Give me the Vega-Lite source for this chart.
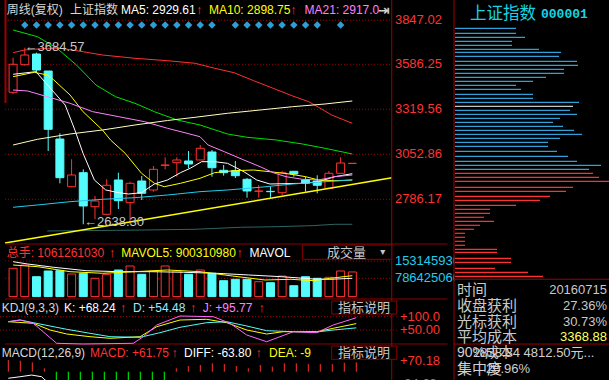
{
"$schema": "https://vega.github.io/schema/vega-lite/v6.json",
"width": 609, "height": 380, "autosize": {"type": "none"}, "padding": 0,
"background": "#000000",
"config": {
  "aria": false,
  "view": {"stroke": null},
  "axis": {"disable": true},
  "legend": {"disable": true},
  "text": {"font": "Liberation Sans, Noto Sans CJK SC, sans-serif", "fontSize": 12, "baseline": "middle", "align": "left"}
},
"datasets": {
  "k": [
    {"i":1,"o":3420.3,"h":3625.3,"l":3410.2,"c":3586.2,"v":1219000000,"m":76,"d":false},
    {"i":2,"o":3583.8,"h":3684.57,"l":3577.9,"c":3641.3,"v":1361000000,"m":72,"d":true},
    {"i":3,"o":3647.2,"h":3655.0,"l":3538.8,"c":3552.4,"v":857000000,"m":61,"d":true},
    {"i":4,"o":3546.5,"h":3546.5,"l":3072.4,"c":3201.0,"v":1103000000,"m":22,"d":true},
    {"i":5,"o":3143.5,"h":3177.3,"l":2881.0,"c":2914.2,"v":1116000000,"m":-60,"d":true},
    {"i":6,"o":2860.9,"h":3023.2,"l":2857.3,"c":2930.2,"v":974000000,"m":-85,"d":true},
    {"i":7,"o":2943.8,"h":2964.0,"l":2638.3,"c":2746.5,"v":1004000000,"m":-105,"d":true},
    {"i":8,"o":2742.4,"h":2805.8,"l":2667.7,"c":2776.1,"v":788000000,"m":-120,"d":true},
    {"i":9,"o":2697.3,"h":2904.7,"l":2693.2,"c":2869.2,"v":961000000,"m":-115,"d":true},
    {"i":10,"o":2900.6,"h":2943.8,"l":2728.7,"c":2777.9,"v":1146000000,"m":-100,"d":true},
    {"i":11,"o":2766.1,"h":2890.5,"l":2639.0,"c":2881.0,"v":1318000000,"m":-90,"d":true},
    {"i":12,"o":2894.7,"h":2924.3,"l":2782.1,"c":2821.8,"v":961000000,"m":-80,"d":true},
    {"i":13,"o":2841.3,"h":2983.5,"l":2831.3,"c":2964.0,"v":1103000000,"m":-70,"d":true},
    {"i":14,"o":2987.5,"h":3035.1,"l":2964.0,"c":2989.5,"v":1318000000,"m":-60,"d":true},
    {"i":15,"o":3003.1,"h":3035.1,"l":2920.2,"c":3019.1,"v":1103000000,"m":22,"d":true},
    {"i":16,"o":3013.2,"h":3072.4,"l":2969.9,"c":2995.4,"v":961000000,"m":37,"d":true},
    {"i":17,"o":3019.1,"h":3108.0,"l":3019.1,"c":3088.4,"v":1146000000,"m":44,"d":true},
    {"i":18,"o":3066.5,"h":3078.3,"l":2920.2,"c":2973.5,"v":1004000000,"m":55,"d":true},
    {"i":19,"o":2958.1,"h":2989.5,"l":2926.1,"c":2943.8,"v":685000000,"m":50,"d":false},
    {"i":20,"o":2955.7,"h":3013.2,"l":2912.4,"c":2926.1,"v":745000000,"m":37,"d":true},
    {"i":21,"o":2904.7,"h":2912.4,"l":2795.7,"c":2835.4,"v":745000000,"m":22,"d":true},
    {"i":22,"o":2833.4,"h":2870.9,"l":2795.7,"c":2835.4,"v":642000000,"m":44,"d":true},
    {"i":23,"o":2833.3,"h":2860.9,"l":2795.7,"c":2831.3,"v":599000000,"m":33,"d":true},
    {"i":24,"o":2825.3,"h":2953.9,"l":2811.7,"c":2943.8,"v":887000000,"m":55,"d":true},
    {"i":25,"o":2952.1,"h":2953.9,"l":2920.2,"c":2936.1,"v":470000000,"m":55,"d":true},
    {"i":26,"o":2900.6,"h":2920.2,"l":2831.3,"c":2881.0,"v":857000000,"m":50,"d":true},
    {"i":27,"o":2894.7,"h":2928.4,"l":2821.8,"c":2869.2,"v":788000000,"m":50,"d":true},
    {"i":28,"o":2851.4,"h":2953.9,"l":2847.3,"c":2940.3,"v":831000000,"m":50,"d":false},
    {"i":29,"o":2940.3,"h":3035.1,"l":2940.3,"c":3001.3,"v":1103000000,"m":59,"d":true},
    {"i":30,"o":2998.6,"h":3001.3,"l":2998.6,"c":2999.6,"v":1061261030,"m":61.75,"d":false}
  ],
  "ma": [
    {"s":"MA5","i":1,"v":3527.0},{"s":"MA5","i":2.95,"v":3542.4},{"s":"MA5","i":5.45,"v":3345.1},{"s":"MA5","i":6.28,"v":3196.9},{"s":"MA5","i":6.98,"v":3058.8},{"s":"MA5","i":7.95,"v":2900.6},{"s":"MA5","i":8.92,"v":2841.3},{"s":"MA5","i":10.03,"v":2825.3},{"s":"MA5","i":10.87,"v":2817.6},{"s":"MA5","i":11.98,"v":2825.3},{"s":"MA5","i":13.08,"v":2876.9},{"s":"MA5","i":14.2,"v":2900.6},{"s":"MA5","i":15.31,"v":2943.9},{"s":"MA5","i":16.14,"v":2970.0},{"s":"MA5","i":17.12,"v":3009.1},{"s":"MA5","i":18.23,"v":3009.1},{"s":"MA5","i":19.33,"v":2999.5},{"s":"MA5","i":20.73,"v":2949.8},{"s":"MA5","i":21.83,"v":2900.6},{"s":"MA5","i":22.95,"v":2876.9},{"s":"MA5","i":25.73,"v":2881.1},{"s":"MA5","i":27.12,"v":2890.5},{"s":"MA5","i":28.5,"v":2920.2},{"s":"MA5","i":30,"v":2938.0},
    {"s":"MA10","i":1,"v":3512.8},{"s":"MA10","i":2.81,"v":3538.8},{"s":"MA10","i":3.92,"v":3522.8},{"s":"MA10","i":4.48,"v":3493.2},{"s":"MA10","i":5.87,"v":3404.3},{"s":"MA10","i":6.98,"v":3305.3},{"s":"MA10","i":8.64,"v":3196.9},{"s":"MA10","i":9.33,"v":3137.6},{"s":"MA10","i":10.58,"v":3058.8},{"s":"MA10","i":11.98,"v":2940.3},{"s":"MA10","i":13.08,"v":2881.0},{"s":"MA10","i":13.92,"v":2860.9},{"s":"MA10","i":15.31,"v":2881.0},{"s":"MA10","i":16.98,"v":2910.7},{"s":"MA10","i":18.23,"v":2943.9},{"s":"MA10","i":19.89,"v":2955.7},{"s":"MA10","i":21.56,"v":2959.8},{"s":"MA10","i":22.95,"v":2949.8},{"s":"MA10","i":24.62,"v":2936.2},{"s":"MA10","i":26,"v":2920.2},{"s":"MA10","i":27.12,"v":2900.6},{"s":"MA10","i":28.5,"v":2896.5},{"s":"MA10","i":30,"v":2900.6},
    {"s":"MA21","i":1,"v":3433.9},{"s":"MA21","i":2.25,"v":3428.0},{"s":"MA21","i":3.92,"v":3394.2},{"s":"MA21","i":5.87,"v":3355.1},{"s":"MA21","i":7.81,"v":3305.3},{"s":"MA21","i":10.03,"v":3275.7},{"s":"MA21","i":12.25,"v":3246.1},{"s":"MA21","i":14.2,"v":3207.0},{"s":"MA21","i":15.87,"v":3177.4},{"s":"MA21","i":16.98,"v":3157.2},{"s":"MA21","i":17.67,"v":3108.0},{"s":"MA21","i":19.06,"v":3068.3},{"s":"MA21","i":20.73,"v":3019.1},{"s":"MA21","i":22.12,"v":2979.4},{"s":"MA21","i":23.23,"v":2943.9},{"s":"MA21","i":24.33,"v":2920.2},{"s":"MA21","i":25.73,"v":2904.8},{"s":"MA21","i":27.12,"v":2900.6},{"s":"MA21","i":28.5,"v":2920.2},{"s":"MA21","i":30,"v":2930.2},
    {"s":"L4","i":1,"v":3789.5},{"s":"L4","i":3.08,"v":3749.8},{"s":"L4","i":4.75,"v":3681.0},{"s":"L4","i":6.42,"v":3582.1},{"s":"L4","i":8.08,"v":3463.6},{"s":"L4","i":9.75,"v":3394.2},{"s":"L4","i":11.42,"v":3355.1},{"s":"L4","i":13.08,"v":3305.3},{"s":"L4","i":15.03,"v":3256.2},{"s":"L4","i":16.98,"v":3226.5},{"s":"L4","i":19.33,"v":3173.2},{"s":"L4","i":21,"v":3153.7},{"s":"L4","i":23.5,"v":3137.6},{"s":"L4","i":25.73,"v":3114.0},{"s":"L4","i":27.67,"v":3088.4},{"s":"L4","i":30,"v":3054.7},
    {"s":"L5","i":1,"v":3655.0},{"s":"L5","i":1.98,"v":3671.0},{"s":"L5","i":3.92,"v":3681.0},{"s":"L5","i":5.03,"v":3681.0},{"s":"L5","i":6.98,"v":3660.9},{"s":"L5","i":8.64,"v":3641.3},{"s":"L5","i":11.42,"v":3621.8},{"s":"L5","i":14.2,"v":3607.6},{"s":"L5","i":16.56,"v":3592.2},{"s":"L5","i":18.23,"v":3562.6},{"s":"L5","i":19.89,"v":3536.5},{"s":"L5","i":21.56,"v":3489.1},{"s":"L5","i":23.23,"v":3444.0},{"s":"L5","i":24.9,"v":3398.4},{"s":"L5","i":26.28,"v":3364.6},{"s":"L5","i":27.12,"v":3331.4},{"s":"L5","i":28.23,"v":3285.8},{"s":"L5","i":30,"v":3236.6},
    {"s":"L6","i":1,"v":3108.0},{"s":"L6","i":3.08,"v":3141.8},{"s":"L6","i":5.87,"v":3173.2},{"s":"L6","i":8.64,"v":3196.9},{"s":"L6","i":11.42,"v":3226.5},{"s":"L6","i":14.2,"v":3253.2},{"s":"L6","i":16.56,"v":3272.2},{"s":"L6","i":19.33,"v":3295.9},{"s":"L6","i":22.12,"v":3315.4},{"s":"L6","i":24.9,"v":3335.0},{"s":"L6","i":27.67,"v":3351.0},{"s":"L6","i":30,"v":3368.8},
    {"s":"L7","i":1,"v":2738.8},{"s":"L7","i":3.08,"v":2752.5},{"s":"L7","i":5.87,"v":2772.0},{"s":"L7","i":8.64,"v":2786.2},{"s":"L7","i":11.42,"v":2795.7},{"s":"L7","i":14.2,"v":2811.7},{"s":"L7","i":16.98,"v":2831.3},{"s":"L7","i":19.33,"v":2841.4},{"s":"L7","i":22.12,"v":2857.4},{"s":"L7","i":24.9,"v":2876.9},{"s":"L7","i":27.67,"v":2890.5},{"s":"L7","i":30,"v":2900.6},
    {"s":"L8","i":3.92,"v":2598.4},{"s":"L8","i":12.25,"v":2604.3},{"s":"L8","i":16.56,"v":2608.5},{"s":"L8","i":20.45,"v":2620.3},{"s":"L8","i":23.5,"v":2623.8},{"s":"L8","i":26.56,"v":2629.8},{"s":"L8","i":28.5,"v":2638.1},{"s":"L8","i":30,"v":2638.1},
    {"s":"trend","i":0.3083,"v":2527.2},{"s":"trend","i":33.392,"v":2914.2}
  ],
  "pgrid": [{"v":3847.02},{"v":3586.25},{"v":3319.56},{"v":3052.86},{"v":2786.17}],
  "vgrid": [{"v":1531459300},{"v":786425060}],
  "vma": [
    {"s":"V10","i":1,"v":1503000000},{"s":"V10","i":2.25,"v":1404000000},{"s":"V10","i":4.48,"v":1262000000},{"s":"V10","i":7.25,"v":1116000000},{"s":"V10","i":10.03,"v":1073000000},{"s":"V10","i":12.81,"v":1073000000},{"s":"V10","i":15.58,"v":1047000000},{"s":"V10","i":18.37,"v":1004000000},{"s":"V10","i":21.14,"v":931000000},{"s":"V10","i":23.92,"v":857000000},{"s":"V10","i":26.7,"v":758000000},{"s":"V10","i":28.08,"v":745000000},{"s":"V10","i":30,"v":788000000},
    {"s":"V5","i":1,"v":1361000000},{"s":"V5","i":3.08,"v":1288000000},{"s":"V5","i":5.87,"v":1073000000},{"s":"V5","i":8.64,"v":1004000000},{"s":"V5","i":11.42,"v":1073000000},{"s":"V5","i":14.2,"v":1146000000},{"s":"V5","i":16.98,"v":1073000000},{"s":"V5","i":19.75,"v":887000000},{"s":"V5","i":22.53,"v":715000000},{"s":"V5","i":24.75,"v":745000000},{"s":"V5","i":26.7,"v":685000000},{"s":"V5","i":28.08,"v":788000000},{"s":"V5","i":30,"v":900310980}
  ],
  "kgrid": [{"v":100},{"v":50}],
  "kdj": [
    {"s":"K","i":1,"v":81.1},{"s":"K","i":3.08,"v":75.1},{"s":"K","i":4.48,"v":50},{"s":"K","i":5.87,"v":35},{"s":"K","i":7.81,"v":24.9},{"s":"K","i":9.48,"v":18.9},{"s":"K","i":11.98,"v":24.9},{"s":"K","i":13.37,"v":62.4},{"s":"K","i":15.31,"v":87.5},{"s":"K","i":17.53,"v":90.1},{"s":"K","i":19.2,"v":77.4},{"s":"K","i":20.87,"v":50},{"s":"K","i":22.53,"v":35},{"s":"K","i":23.92,"v":43.6},{"s":"K","i":26.7,"v":43.6},{"s":"K","i":28.08,"v":56.4},{"s":"K","i":30,"v":74},
    {"s":"D","i":1,"v":81.1},{"s":"D","i":1.98,"v":87.5},{"s":"D","i":3.08,"v":77.4},{"s":"D","i":4.48,"v":65},{"s":"D","i":5.87,"v":52.6},{"s":"D","i":7.81,"v":37.6},{"s":"D","i":9.48,"v":24.9},{"s":"D","i":11.98,"v":22.6},{"s":"D","i":13.64,"v":39.9},{"s":"D","i":15.31,"v":60.1},{"s":"D","i":17.53,"v":77.4},{"s":"D","i":19.2,"v":81.1},{"s":"D","i":20.87,"v":65},{"s":"D","i":22.53,"v":47.4},{"s":"D","i":24.75,"v":43.6},{"s":"D","i":26.7,"v":42.5},{"s":"D","i":28.08,"v":50},{"s":"D","i":30,"v":58},
    {"s":"J","i":1,"v":81.1},{"s":"J","i":1.98,"v":87.5},{"s":"J","i":3.08,"v":75.1},{"s":"J","i":5.03,"v":0.1},{"s":"J","i":7.25,"v":-2.5},{"s":"J","i":11.42,"v":0.1},{"s":"J","i":12.25,"v":24.9},{"s":"J","i":13.37,"v":68.8},{"s":"J","i":15.31,"v":102.5},{"s":"J","i":18.08,"v":99.9},{"s":"J","i":19.48,"v":75.1},{"s":"J","i":20.87,"v":31.3},{"s":"J","i":22.53,"v":6.1},{"s":"J","i":23.64,"v":24.9},{"s":"J","i":24.75,"v":43.6},{"s":"J","i":26.7,"v":39.9},{"s":"J","i":28.08,"v":68.8},{"s":"J","i":30,"v":96}
  ],
  "mgrid": [{"v":70.18}],
  "macdl": [
    {"s":"DIFF","i":1,"v":-43},{"s":"DIFF","i":1.98,"v":-33},{"s":"DIFF","i":2.95,"v":-22},{"s":"DIFF","i":3.78,"v":-33},{"s":"DIFF","i":4.06,"v":-55},{"s":"DIFF","i":5,"v":-80},{"s":"DIFF","i":8,"v":-140},{"s":"DIFF","i":12,"v":-150},{"s":"DIFF","i":16,"v":-110},{"s":"DIFF","i":20,"v":-90},{"s":"DIFF","i":25,"v":-85},{"s":"DIFF","i":30,"v":-63.8},
    {"s":"DEA","i":1,"v":-81},{"s":"DEA","i":5,"v":-82},{"s":"DEA","i":10,"v":-115},{"s":"DEA","i":15,"v":-128},{"s":"DEA","i":20,"v":-112},{"s":"DEA","i":25,"v":-100},{"s":"DEA","i":30,"v":-94.7}
  ],
  "chip": [
    {"p":3746.7,"n":61},{"p":3722.5,"n":61},{"p":3703.1,"n":70},{"p":3683.7,"n":57},{"p":3664.4,"n":57},{"p":3645.0,"n":84},{"p":3630.5,"n":106},{"p":3611.1,"n":104},{"p":3586.9,"n":122},{"p":3567.5,"n":123},{"p":3548.1,"n":109},{"p":3528.7,"n":109},{"p":3509.4,"n":91},{"p":3490.0,"n":78},{"p":3470.6,"n":61},{"p":3451.2,"n":66},{"p":3427.0,"n":78},{"p":3407.6,"n":78},{"p":3388.3,"n":124},{"p":3368.9,"n":118},{"p":3349.5,"n":115},{"p":3330.1,"n":122},{"p":3310.8,"n":105},{"p":3291.4,"n":98},{"p":3272.0,"n":108},{"p":3252.6,"n":119},{"p":3233.3,"n":127},{"p":3213.9,"n":105},{"p":3194.5,"n":93},{"p":3175.1,"n":93},{"p":3150.9,"n":102},{"p":3126.7,"n":113},{"p":3102.5,"n":122},{"p":3083.1,"n":146},{"p":3063.7,"n":134},
    {"p":3044.3,"n":138},{"p":3024.9,"n":144},{"p":3005.6,"n":154},{"p":2976.5,"n":118},{"p":2957.2,"n":111},{"p":2932.9,"n":95},{"p":2913.5,"n":85},{"p":2889.3,"n":61},{"p":2870.0,"n":35},{"p":2850.6,"n":35},{"p":2831.2,"n":29},{"p":2811.8,"n":39},{"p":2792.4,"n":25},{"p":2773.1,"n":19},{"p":2753.7,"n":10},{"p":2734.3,"n":10},{"p":2714.9,"n":10},{"p":2695.6,"n":10},{"p":2676.2,"n":42},{"p":2661.7,"n":42},{"p":2632.6,"n":56},{"p":2613.2,"n":56},{"p":2584.2,"n":40},{"p":2564.8,"n":73},{"p":2545.4,"n":88}
  ],
  "table": [
    {"r":1,"k":"时间","v":"20160715"},
    {"r":2,"k":"收盘获利","v":"27.36%"},
    {"r":3,"k":"光标获利","v":"30.73%"},
    {"r":4,"k":"平均成本","v":"3368.88"}
  ]
},
"resolve": {"scale": {"x": "independent", "y": "independent", "color": "independent"}},
"layer": [
  {"layer": [
    {"data": {"name": "pgrid"}, "mark": {"type": "rule", "color": "#a00000", "strokeDash": [1, 2]},
     "encoding": {
       "x": {"datum": 0.3083, "type": "quantitative", "scale": {"domain": [0.3083, 33.392], "range": [0, 397], "nice": false, "zero": false}},
       "x2": {"datum": 33.37},
       "y": {"field": "v", "type": "quantitative", "scale": {"domain": [2527.2, 3967.26], "range": [243, 0], "nice": false, "zero": false}}}},
    {"data": {"name": "pgrid"}, "mark": {"type": "text", "color": "#ff3232", "fontSize": 13},
     "encoding": {"x": {"datum": 33.64}, "y": {"field": "v", "type": "quantitative"}, "text": {"field": "v", "type": "quantitative", "format": ".2f"}}},
    {"data": {"name": "k"}, "mark": {"type": "rule"},
     "encoding": {"x": {"field": "i", "type": "quantitative"}, "y": {"field": "l", "type": "quantitative"}, "y2": {"field": "h"},
       "color": {"condition": {"test": "datum.c >= datum.o", "value": "#ff3232"}, "value": "#54fcfc"}}},
    {"data": {"name": "k"}, "mark": {"type": "bar", "size": 8, "strokeWidth": 1},
     "encoding": {"x": {"field": "i", "type": "quantitative"}, "y": {"field": "o", "type": "quantitative"}, "y2": {"field": "c"},
       "fill": {"condition": {"test": "datum.c >= datum.o", "value": "#000000"}, "value": "#54fcfc"},
       "stroke": {"condition": {"test": "datum.c >= datum.o", "value": "#ff3232"}, "value": "#54fcfc"}}},
    {"data": {"name": "ma"}, "transform": [{"filter": "datum.s != 'trend'"}], "mark": {"type": "line", "strokeWidth": 1},
     "encoding": {"x": {"field": "i", "type": "quantitative"}, "y": {"field": "v", "type": "quantitative"},
       "color": {"field": "s", "type": "nominal", "legend": null, "scale": {"domain": ["MA5","MA10","MA21","L4","L5","L6","L7","L8"], "range": ["#ffffff","#ffff00","#ff80ff","#00e000","#ff3030","#ffffc0","#22ccee","#2f6464"]}}}},
    {"data": {"name": "ma"}, "transform": [{"filter": "datum.s == 'trend'"}], "mark": {"type": "line", "strokeWidth": 1.5, "color": "#ffff00"},
     "encoding": {"x": {"field": "i", "type": "quantitative"}, "y": {"field": "v", "type": "quantitative"}}},
    {"data": {"name": "k"}, "transform": [{"filter": "datum.d"}], "mark": {"type": "point", "shape": "diamond", "filled": true, "size": 56, "color": "#2e9fd4", "opacity": 1},
     "encoding": {"x": {"field": "i", "type": "quantitative"}, "y": {"datum": 3819}}},
    {"data": {"values": [{}]}, "mark": {"type": "text", "color": "#c8c8c8", "fontSize": 13}, "encoding": {"x": {"datum": 1.975}, "y": {"datum": 3690.5}, "text": {"value": "←3684.57"}}},
    {"data": {"values": [{}]}, "mark": {"type": "text", "color": "#c8c8c8", "fontSize": 13}, "encoding": {"x": {"datum": 7.06}, "y": {"datum": 2651.7}, "text": {"value": "←2638.30"}}},
    {"data": {"values": [{}]}, "mark": {"type": "text", "color": "#d8d8d8"}, "encoding": {"x": {"datum": 0.45}, "y": {"datum": 3908}, "text": {"value": "周线(复权)"}}},
    {"data": {"values": [{}]}, "mark": {"type": "text", "color": "#d8d8d8"}, "encoding": {"x": {"datum": 5.867}, "y": {"datum": 3908}, "text": {"value": "上证指数"}}},
    {"data": {"values": [{}]}, "mark": {"type": "text", "color": "#ffffff"}, "encoding": {"x": {"datum": 10.225}, "y": {"datum": 3908}, "text": {"value": "MA5: 2929.61"}}},
    {"data": {"values": [{}]}, "mark": {"type": "text", "color": "#ff3232", "fontWeight": "bold", "fontSize": 13}, "encoding": {"x": {"datum": 16.642}, "y": {"datum": 3908}, "text": {"value": "↑"}}},
    {"data": {"values": [{}]}, "mark": {"type": "text", "color": "#ffff00"}, "encoding": {"x": {"datum": 17.75}, "y": {"datum": 3908}, "text": {"value": "MA10: 2898.75"}}},
    {"data": {"values": [{}]}, "mark": {"type": "text", "color": "#ff3232", "fontWeight": "bold", "fontSize": 13}, "encoding": {"x": {"datum": 24.7}, "y": {"datum": 3908}, "text": {"value": "↑"}}},
    {"data": {"values": [{}]}, "mark": {"type": "text", "color": "#ff80ff"}, "encoding": {"x": {"datum": 25.917}, "y": {"datum": 3908}, "text": {"value": "MA21: 2917.0"}}},
    {"data": {"values": [{}]}, "mark": {"type": "text", "color": "#d0d0d0", "fontWeight": "bold", "fontSize": 14, "font": "DejaVu Sans", "align": "center"}, "encoding": {"x": {"datum": 32.7}, "y": {"datum": 3905}, "text": {"value": "⇥"}}},
    {"data": {"values": [{}]}, "mark": {"type": "rule", "color": "#8c0000"}, "encoding": {"x": {"datum": 0.3083}, "x2": {"datum": 38.14}, "y": {"datum": 2521.3}}},
    {"data": {"values": [{}]}, "mark": {"type": "rule", "color": "#8c0000"}, "encoding": {"x": {"datum": 0.3083}, "x2": {"datum": 38.14}, "y": {"datum": 2195.4}}},
    {"data": {"values": [{}]}, "mark": {"type": "rule", "color": "#8c0000"}, "encoding": {"x": {"datum": 0.3083}, "x2": {"datum": 38.14}, "y": {"datum": 1928.8}}},
    {"data": {"values": [{}]}, "mark": {"type": "rule", "color": "#a00000"}, "encoding": {"x": {"datum": 33.37}, "y": {"datum": 3967.26}, "y2": {"datum": 1715.4}}},
    {"data": {"values": [{}]}, "mark": {"type": "rule", "color": "#a00000", "strokeWidth": 2}, "encoding": {"x": {"datum": 0.35}, "y": {"datum": 3967.26}, "y2": {"datum": 3356.9}}}
  ]},
  {"layer": [
    {"data": {"name": "vgrid"}, "mark": {"type": "rule", "color": "#a00000", "strokeDash": [1, 2]},
     "encoding": {
       "x": {"datum": 0.3083, "type": "quantitative", "scale": {"domain": [0.3083, 33.392], "range": [0, 397], "nice": false, "zero": false}},
       "x2": {"datum": 33.37},
       "y": {"field": "v", "type": "quantitative", "scale": {"domain": [0, 2265500000], "range": [296.6, 244], "nice": false, "zero": false}}}},
    {"data": {"name": "vgrid"}, "mark": {"type": "text", "color": "#22ccee", "fontSize": 13},
     "encoding": {"x": {"datum": 33.64}, "y": {"field": "v", "type": "quantitative"}, "text": {"field": "v", "type": "quantitative", "format": "d"}}},
    {"data": {"name": "k"}, "mark": {"type": "bar", "size": 8, "strokeWidth": 1},
     "encoding": {"x": {"field": "i", "type": "quantitative"}, "y": {"field": "v", "type": "quantitative"}, "y2": {"datum": 0},
       "fill": {"condition": {"test": "datum.c >= datum.o", "value": "#000000"}, "value": "#54fcfc"},
       "stroke": {"condition": {"test": "datum.c >= datum.o", "value": "#ff3232"}, "value": "#54fcfc"}}},
    {"data": {"name": "vma"}, "mark": {"type": "line", "strokeWidth": 1},
     "encoding": {"x": {"field": "i", "type": "quantitative"}, "y": {"field": "v", "type": "quantitative"},
       "color": {"field": "s", "type": "nominal", "legend": null, "scale": {"domain": ["V10","V5"], "range": ["#ffffff","#ffff00"]}}}},
    {"data": {"values": [{}]}, "mark": {"type": "text", "color": "#ff3232"}, "encoding": {"x": {"datum": 0.45}, "y": {"datum": 1899000000}, "text": {"value": "总手: 1061261030"}}},
    {"data": {"values": [{}]}, "mark": {"type": "text", "color": "#ff3232", "fontWeight": "bold", "fontSize": 13}, "encoding": {"x": {"datum": 9.2}, "y": {"datum": 1899000000}, "text": {"value": "↑"}}},
    {"data": {"values": [{}]}, "mark": {"type": "text", "color": "#ffff00"}, "encoding": {"x": {"datum": 10.25}, "y": {"datum": 1899000000}, "text": {"value": "MAVOL5: 900310980"}}},
    {"data": {"values": [{}]}, "mark": {"type": "text", "color": "#ff3232", "fontWeight": "bold", "fontSize": 13}, "encoding": {"x": {"datum": 20.1}, "y": {"datum": 1899000000}, "text": {"value": "↑"}}},
    {"data": {"values": [{}]}, "mark": {"type": "text", "color": "#ffffff"}, "encoding": {"x": {"datum": 21.2}, "y": {"datum": 1899000000}, "text": {"value": "MAVOL"}}},
    {"data": {"values": [{}]}, "mark": {"type": "rect", "fill": "#000000", "stroke": "#8c0000", "strokeWidth": 1}, "encoding": {"x": {"datum": 25.73}, "x2": {"datum": 33.37}, "y": {"datum": 2222400000}, "y2": {"datum": 1606500000}}},
    {"data": {"values": [{}]}, "mark": {"type": "text", "color": "#c8c8c8", "fontSize": 13, "align": "center"}, "encoding": {"x": {"datum": 29.5}, "y": {"datum": 1899000000}, "text": {"value": "成交量"}}},
    {"data": {"values": [{}]}, "mark": {"type": "text", "color": "#c8c8c8", "fontSize": 10, "align": "center", "font": "DejaVu Sans"}, "encoding": {"x": {"datum": 32.6}, "y": {"datum": 1940000000}, "text": {"value": "▾"}}}
  ]},
  {"layer": [
    {"data": {"name": "kgrid"}, "mark": {"type": "rule", "color": "#a00000", "strokeDash": [1, 2]},
     "encoding": {
       "x": {"datum": 0.3083, "type": "quantitative", "scale": {"domain": [0.3083, 33.392], "range": [0, 397], "nice": false, "zero": false}},
       "x2": {"datum": 33.37},
       "y": {"field": "v", "type": "quantitative", "scale": {"domain": [-2.5, 166.25], "range": [344, 299], "nice": false, "zero": false}}}},
    {"data": {"name": "kgrid"}, "mark": {"type": "text", "color": "#ff3232", "fontSize": 13},
     "encoding": {"x": {"datum": 33.64}, "y": {"field": "v", "type": "quantitative"}, "text": {"field": "v", "type": "quantitative", "format": "+.4r"}}},
    {"data": {"name": "kdj"}, "mark": {"type": "line", "strokeWidth": 1},
     "encoding": {"x": {"field": "i", "type": "quantitative"}, "y": {"field": "v", "type": "quantitative"},
       "color": {"field": "s", "type": "nominal", "legend": null, "scale": {"domain": ["K","D","J"], "range": ["#ffff00","#54fcfc","#ff66ff"]}}}},
    {"data": {"values": [{}]}, "mark": {"type": "text", "color": "#d8d8d8"}, "encoding": {"x": {"datum": 0.45}, "y": {"datum": 131.4}, "text": {"value": "KDJ(9,3,3)"}}},
    {"data": {"values": [{}]}, "mark": {"type": "text", "color": "#ffffff"}, "encoding": {"x": {"datum": 5.642}, "y": {"datum": 131.4}, "text": {"value": "K: +68.24"}}},
    {"data": {"values": [{}]}, "mark": {"type": "text", "color": "#ff3232", "fontWeight": "bold", "fontSize": 13}, "encoding": {"x": {"datum": 10.3}, "y": {"datum": 131.4}, "text": {"value": "↑"}}},
    {"data": {"values": [{}]}, "mark": {"type": "text", "color": "#a0e8ff"}, "encoding": {"x": {"datum": 11.392}, "y": {"datum": 131.4}, "text": {"value": "D: +54.48"}}},
    {"data": {"values": [{}]}, "mark": {"type": "text", "color": "#ff3232", "fontWeight": "bold", "fontSize": 13}, "encoding": {"x": {"datum": 16.142}, "y": {"datum": 131.4}, "text": {"value": "↑"}}},
    {"data": {"values": [{}]}, "mark": {"type": "text", "color": "#ff80ff"}, "encoding": {"x": {"datum": 17.2}, "y": {"datum": 131.4}, "text": {"value": "J: +95.77"}}},
    {"data": {"values": [{}]}, "mark": {"type": "text", "color": "#ff3232", "fontWeight": "bold", "fontSize": 13}, "encoding": {"x": {"datum": 21.85}, "y": {"datum": 131.4}, "text": {"value": "↑"}}},
    {"data": {"values": [{}]}, "mark": {"type": "rect", "fill": "#000000", "stroke": "#8c0000", "strokeWidth": 1}, "encoding": {"x": {"datum": 27.95}, "x2": {"datum": 33.37}, "y": {"datum": 158.75}, "y2": {"datum": 110}}},
    {"data": {"values": [{}]}, "mark": {"type": "text", "color": "#c8c8c8", "fontSize": 13, "align": "center"}, "encoding": {"x": {"datum": 30.64}, "y": {"datum": 131.4}, "text": {"value": "指标说明"}}}
  ]},
  {"layer": [
    {"data": {"name": "mgrid"}, "mark": {"type": "text", "color": "#ff3232", "fontSize": 13},
     "encoding": {
       "x": {"datum": 33.64, "type": "quantitative", "scale": {"domain": [0.3083, 33.392], "range": [0, 397], "nice": false, "zero": false}},
       "y": {"field": "v", "type": "quantitative", "scale": {"domain": [-54.4, 181.7], "range": [380, 344], "nice": false, "zero": false}},
       "text": {"field": "v", "type": "quantitative", "format": "+.4r"}}},
    {"data": {"name": "k"}, "mark": {"type": "rule", "strokeWidth": 1},
     "encoding": {"x": {"field": "i", "type": "quantitative"}, "y": {"field": "m", "type": "quantitative"}, "y2": {"datum": 0},
       "color": {"condition": {"test": "datum.m > 0", "value": "#ff3232"}, "value": "#00ff00"}}},
    {"data": {"name": "macdl"}, "mark": {"type": "line", "strokeWidth": 1},
     "encoding": {"x": {"field": "i", "type": "quantitative"}, "y": {"field": "v", "type": "quantitative"},
       "color": {"field": "s", "type": "nominal", "legend": null, "scale": {"domain": ["DIFF","DEA"], "range": ["#ffffff","#ffff00"]}}}},
    {"data": {"values": [{}]}, "mark": {"type": "text", "color": "#00e000", "fontSize": 13}, "encoding": {"x": {"datum": 33.64}, "y": {"datum": -81}, "text": {"value": "-84.63"}}},
    {"data": {"values": [{}]}, "mark": {"type": "text", "color": "#d8d8d8"}, "encoding": {"x": {"datum": 0.45}, "y": {"datum": 124}, "text": {"value": "MACD(12,26,9)"}}},
    {"data": {"values": [{}]}, "mark": {"type": "text", "color": "#ff3232"}, "encoding": {"x": {"datum": 7.808}, "y": {"datum": 124}, "text": {"value": "MACD: +61.75"}}},
    {"data": {"values": [{}]}, "mark": {"type": "text", "color": "#ff3232", "fontWeight": "bold", "fontSize": 13}, "encoding": {"x": {"datum": 14.6}, "y": {"datum": 124}, "text": {"value": "↑"}}},
    {"data": {"values": [{}]}, "mark": {"type": "text", "color": "#ffffff"}, "encoding": {"x": {"datum": 15.65}, "y": {"datum": 124}, "text": {"value": "DIFF: -63.80"}}},
    {"data": {"values": [{}]}, "mark": {"type": "text", "color": "#ff3232", "fontWeight": "bold", "fontSize": 13}, "encoding": {"x": {"datum": 21.6}, "y": {"datum": 124}, "text": {"value": "↑"}}},
    {"data": {"values": [{}]}, "mark": {"type": "text", "color": "#ffff00"}, "encoding": {"x": {"datum": 22.725}, "y": {"datum": 124}, "text": {"value": "DEA: -9"}}},
    {"data": {"values": [{}]}, "mark": {"type": "rect", "fill": "#000000", "stroke": "#8c0000", "strokeWidth": 1}, "encoding": {"x": {"datum": 27.95}, "x2": {"datum": 33.37}, "y": {"datum": 168.6}, "y2": {"datum": 81.3}}},
    {"data": {"values": [{}]}, "mark": {"type": "text", "color": "#c8c8c8", "fontSize": 13, "align": "center"}, "encoding": {"x": {"datum": 30.64}, "y": {"datum": 124}, "text": {"value": "指标说明"}}}
  ]},
  {"layer": [
    {"data": {"values": [{}]}, "mark": {"type": "rect", "fill": "#000000"},
     "encoding": {
       "x": {"datum": -0.7, "type": "quantitative", "scale": {"domain": [0, 154], "range": [455, 609], "nice": false, "zero": false}},
       "x2": {"datum": 154},
       "y": {"datum": 2043.1, "type": "quantitative", "scale": {"domain": [2043.1, 3883.8], "range": [380, 0], "nice": false, "zero": false}},
       "y2": {"datum": 3883.8}}},
    {"data": {"values": [{}]}, "mark": {"type": "rule", "color": "#a00000"}, "encoding": {"x": {"datum": -1}, "y": {"datum": 2043.1}, "y2": {"datum": 3883.8}}},
    {"data": {"name": "chip"}, "mark": {"type": "rule", "strokeWidth": 1.2},
     "encoding": {"x": {"field": "n", "type": "quantitative"}, "x2": {"datum": 0}, "y": {"field": "p", "type": "quantitative"},
       "color": {"condition": [{"test": "abs(datum.p - 3368.88) < 1", "value": "#c8c8c8"}, {"test": "datum.p > 3054", "value": "#2fa0d8"}], "value": "#ff3030"}}},
    {"data": {"values": [{}]}, "mark": {"type": "text", "color": "#18d4e4", "fontSize": 16.5, "font": "Noto Sans CJK SC"}, "encoding": {"x": {"datum": 15}, "y": {"datum": 3817}, "text": {"value": "上证指数"}}},
    {"data": {"values": [{}]}, "mark": {"type": "text", "color": "#18d4e4", "fontSize": 13, "fontWeight": "bold", "font": "Liberation Mono"}, "encoding": {"x": {"datum": 86}, "y": {"datum": 3817}, "text": {"value": "000001"}}}
  ]},
  {"layer": [
    {"data": {"values": [{}]}, "mark": {"type": "rule", "color": "#a00000"},
     "encoding": {
       "x": {"datum": -1, "type": "quantitative", "scale": {"domain": [0, 154], "range": [455, 609], "nice": false, "zero": false}},
       "x2": {"datum": 154},
       "y": {"datum": 0.32, "type": "quantitative", "scale": {"domain": [0, 6.7], "range": [274.2, 380.06], "nice": false, "zero": false}}}},
    {"data": {"values": [{}]}, "mark": {"type": "rule", "color": "#a00000"}, "encoding": {"x": {"datum": -1}, "x2": {"datum": 154}, "y": {"datum": 4.42}}},
    {"data": {"name": "table"}, "mark": {"type": "text", "color": "#c8c8c8", "fontSize": 15, "font": "Noto Sans CJK SC"},
     "encoding": {"x": {"datum": 2}, "y": {"field": "r", "type": "quantitative"}, "text": {"field": "k", "type": "nominal"}}},
    {"data": {"name": "table"}, "mark": {"type": "text", "fontSize": 13, "align": "right"},
     "encoding": {"x": {"datum": 152}, "y": {"field": "r", "type": "quantitative"}, "text": {"field": "v", "type": "nominal"},
       "color": {"condition": {"test": "datum.r == 4", "value": "#ffff66"}, "value": "#c8c8c8"}}},
    {"data": {"values": [{}]}, "mark": {"type": "text", "color": "#d0d0d0", "fontSize": 14}, "encoding": {"x": {"datum": 2}, "y": {"datum": 5}, "text": {"value": "90%成本"}}},
    {"data": {"values": [{}]}, "mark": {"type": "text", "color": "#d0d0d0", "fontSize": 13}, "encoding": {"x": {"datum": 18}, "y": {"datum": 5}, "text": {"value": "2838.84 4812.50元..."}}},
    {"data": {"values": [{}]}, "mark": {"type": "text", "color": "#d0d0d0", "fontSize": 15, "font": "Noto Sans CJK SC"}, "encoding": {"x": {"datum": 2}, "y": {"datum": 6}, "text": {"value": "集中度"}}},
    {"data": {"values": [{}]}, "mark": {"type": "text", "color": "#d0d0d0", "fontSize": 13}, "encoding": {"x": {"datum": 31}, "y": {"datum": 6}, "text": {"value": "20.96%"}}}
  ]}
]
}
